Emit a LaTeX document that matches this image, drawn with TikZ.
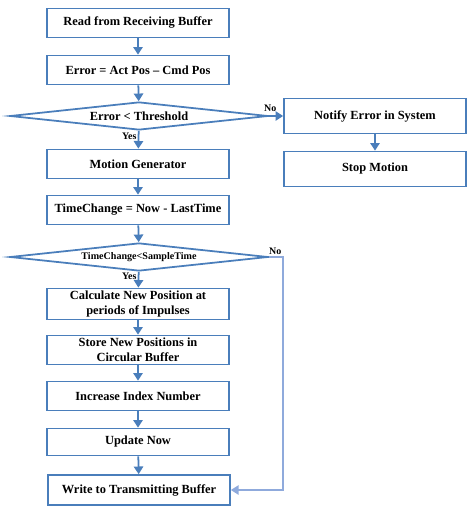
\documentclass[tikz,border=0pt]{standalone}
\usepackage{fontspec}
\setmainfont{Liberation Serif}
\usetikzlibrary{shapes.geometric,arrows.meta}
\definecolor{chart_blue}{HTML}{4A7EBB}
\definecolor{light_blue}{HTML}{8FAADC}

\begin{document}
\begin{tikzpicture}[x=0.03cm,y=-0.03cm,
    stepbox/.style={draw=chart_blue,line width=1.5pt,minimum width=5.46cm,minimum height=0.87cm,
      align=center,font=\fontsize{10.6}{13}\selectfont\bfseries,inner sep=1pt},
    decision/.style={draw=chart_blue,line width=1.5pt,shape=diamond,aspect=9,minimum width=7.74cm,
      minimum height=0.84cm,inner sep=1pt,font=\fontsize{10.6}{12}\selectfont\bfseries},
    flow/.style={-{Triangle[width=8pt,length=6.5pt]},draw=chart_blue,line width=1.5pt},
    noline/.style={-{Triangle[width=8pt,length=6.5pt]},draw=light_blue,line width=0.9pt},
    answer/.style={font=\fontsize{8.5}{10}\selectfont\bfseries,inner sep=1pt}]
    \useasboundingbox (0,0) rectangle (474,513);
    \node[stepbox] (rd) at (138,23) {Read from Receiving Buffer};
    \node[stepbox] (err) at (138,70) {Error = Act Pos -- Cmd Pos};
    \node[decision] (thr) at (139,116) {Error < Threshold};
    \node[stepbox,minimum height=1.05cm] (ntf) at (375,116) {Notify Error in System};
    \node[stepbox,minimum height=1.05cm] (stp) at (375,169) {Stop Motion};
    \node[stepbox] (mg) at (138,164) {Motion Generator};
    \node[stepbox] (tc) at (138,210) {TimeChange = Now - LastTime};
    \node[decision,font=\fontsize{8.6}{10}\selectfont\bfseries] (smp) at (139,257) {TimeChange<SampleTime};
    \node[stepbox,minimum height=0.93cm] (calc) at (138,304) {Calculate New Position at\\periods of Impulses};
    \node[stepbox] (circ) at (138,350) {Store New Positions in\\Circular Buffer};
    \node[stepbox] (idx) at (138,396) {Increase Index Number};
    \node[stepbox,minimum height=0.81cm] (upd) at (138,442) {Update Now};
    \node[stepbox,minimum height=0.9cm] (wr) at (139,490) {Write to Transmitting Buffer};
    \coordinate (no_turn) at (283,257);
    \draw[flow] (rd) -- (err);
    \draw[flow] (err) -- (thr);
    \draw[flow] (thr) -- node[answer,left,pos=0.3] {Yes} (mg);
    \draw[flow] (thr.east) -- node[answer,above,pos=0.1,yshift=2pt] {No} (ntf.west);
    \draw[flow] (ntf) -- (stp);
    \draw[flow] (mg) -- (tc);
    \draw[flow] (tc) -- (smp);
    \draw[flow] (smp) -- node[answer,left,pos=0.3] {Yes} (calc);
    \draw[flow] (calc) -- (circ);
    \draw[flow] (circ) -- (idx);
    \draw[flow] (idx) -- (upd);
    \draw[flow] (upd) -- (wr);
    \draw[noline] (smp.east) -- (no_turn) node[answer,above left,yshift=1pt] {No} |- (wr.east);
  \end{tikzpicture}
\end{document}
